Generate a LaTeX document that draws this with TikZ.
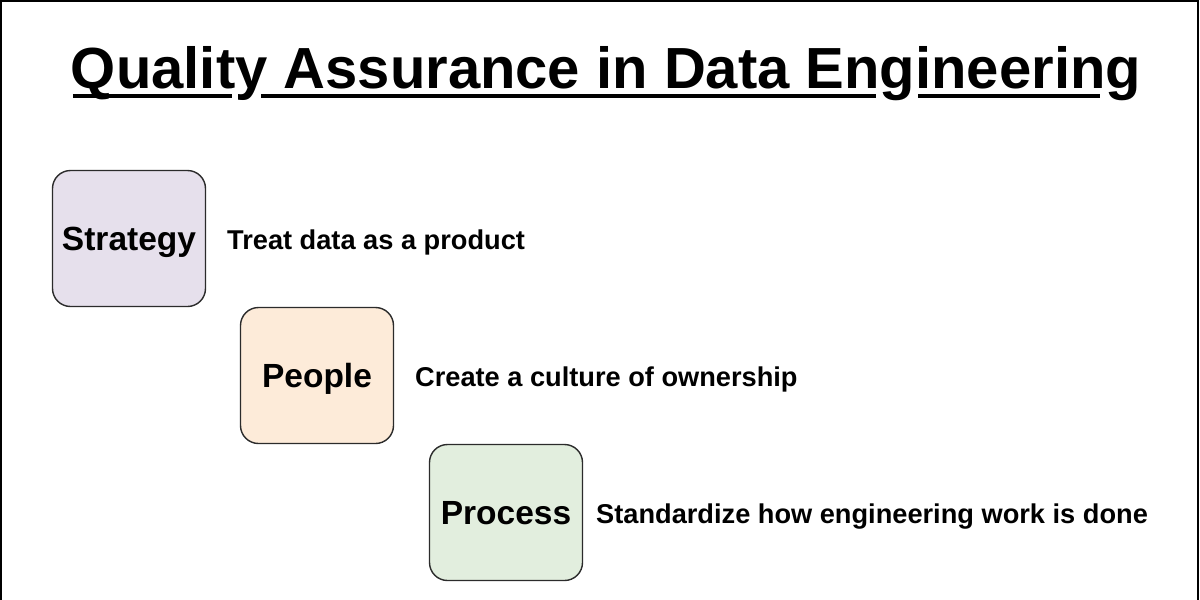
\documentclass[tikz,border=0pt]{standalone}
\usepackage{fontspec}
\setmainfont{Liberation Sans}
\definecolor{stratfill}{HTML}{E6E0EC}
\definecolor{peoplefill}{HTML}{FDEBD9}
\definecolor{procfill}{HTML}{E2EEDE}
\definecolor{boxline}{HTML}{2B2B2B}
\newcommand\qaTitleFont{\fontsize{58}{64}\selectfont\bfseries}
\newlength\qaA \newlength\qaB \newlength\qaC \newlength\qaD \newlength\qaE
\begin{document}
\settowidth{\qaA}{\qaTitleFont Qualit}%
\settowidth{\qaB}{\qaTitleFont Quality}%
\settowidth{\qaC}{\qaTitleFont Quality Assurance in Data En}%
\settowidth{\qaD}{\qaTitleFont Quality Assurance in Data Eng}%
\settowidth{\qaE}{\qaTitleFont Quality Assurance in Data Engineerin}%
\begin{tikzpicture}[x=1pt,y=-1pt,
  box/.style={draw=boxline, line width=1.4pt, rounded corners=18pt,
    minimum width=153pt, minimum height=136pt, inner sep=0pt,
    font=\fontsize{33.5}{36}\selectfont\bfseries, text height=24pt, text depth=0pt},
  desc/.style={anchor=base west, inner sep=0pt, font=\fontsize{27.2}{30}\selectfont\bfseries},
  uline/.style={line width=3.4pt}]
\useasboundingbox (0,0) rectangle (1200,600);
\fill[white] (0,0) rectangle (1200,600);
\draw[line width=2.2pt] (1,1) rectangle (1198,640);
\node[anchor=base, inner sep=0pt, font=\qaTitleFont] (title) at (606,88) {Quality Assurance in Data Engineering};
\draw[uline] ([xshift=2pt,yshift=-8pt]title.base west) -- ([xshift={\qaA-3pt},yshift=-8pt]title.base west);
\draw[uline] ([xshift={\qaB-6pt},yshift=-8pt]title.base west) -- ([xshift={\qaC-4pt},yshift=-8pt]title.base west);
\draw[uline] ([xshift={\qaD+3pt},yshift=-8pt]title.base west) -- ([xshift={\qaE-5pt},yshift=-8pt]title.base west);
\node[box, fill=stratfill] (strategy) at (129,238.5) {Strategy};
\node[box, fill=peoplefill] (people) at (317,375.5) {People};
\node[box, fill=procfill] (process) at (506,512.5) {Process};
\node[desc] (dstrategy) at (227,249) {Treat data as a product};
\node[desc] (dpeople) at (415,386) {Create a culture of ownership};
\node[desc] (dprocess) at (596,523) {Standardize how engineering work is done};
\end{tikzpicture}
\end{document}
